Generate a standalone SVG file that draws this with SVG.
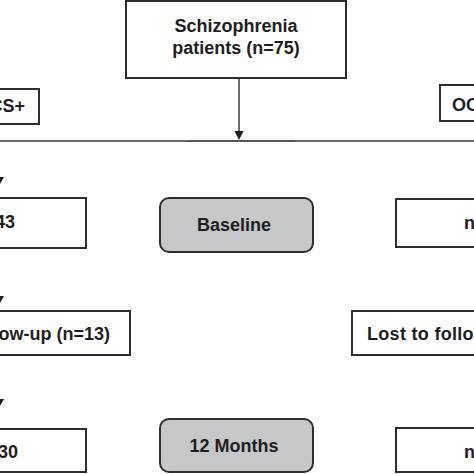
<svg xmlns="http://www.w3.org/2000/svg" width="474" height="474" viewBox="0 0 474 474">
<style>
.box{fill:#ffffff;stroke:#2e2e2e;stroke-width:2}
.grey{fill:#c6c7c9;stroke:#2e2e2e;stroke-width:2}
.t{font-family:"Liberation Sans",Arial,Helvetica,sans-serif;font-weight:bold;font-size:18px;fill:#1e1e1e}
.ln{stroke:#3a3a3a;stroke-width:1.5;fill:none}
.ah{fill:#1e1e1e}
</style>
<rect width="474" height="474" fill="#ffffff"/>
<g id="connectors">
<line class="ln" x1="0" y1="141" x2="474" y2="141"/>
<line x1="187" y1="141" x2="295" y2="141" stroke="#555555" stroke-width="2"/>
<line class="ln" x1="239" y1="78" x2="239" y2="133"/>
<polygon class="ah" points="234.5,131 243.5,131 239,140"/>
<polygon class="ah" points="-4,177 4,177 0,184"/>
<polygon class="ah" points="-4,296 4,296 0,303"/>
<polygon class="ah" points="-4,399 4,399 0,406"/>
</g>
<g id="patients">
<rect class="box" x="126" y="1" width="220" height="77"/>
<text class="t" x="236" y="31.5" text-anchor="middle" font-size="18.5">Schizophrenia</text>
<text class="t" x="236" y="53.5" text-anchor="middle" font-size="18.5">patients (n=75)</text>
</g>
<g id="ocs-left">
<rect class="box" x="-20" y="89" width="59" height="35"/>
<text class="t" x="25" y="112" text-anchor="end">CS+</text>
</g>
<g id="ocs-right">
<rect class="box" x="440" y="85" width="60" height="36"/>
<text class="t" x="452" y="111">OC</text>
</g>
<g id="left-baseline">
<rect class="box" x="-20" y="198" width="106" height="50"/>
<text class="t" x="15" y="228" text-anchor="end">43</text>
</g>
<g id="baseline">
<rect class="grey" x="160" y="198" width="153" height="54" rx="9"/>
<text class="t" x="234" y="230.5" text-anchor="middle">Baseline</text>
</g>
<g id="right-baseline">
<rect class="box" x="396" y="199" width="100" height="48"/>
<text class="t" x="464" y="229">n</text>
</g>
<g id="left-lost">
<rect class="box" x="-20" y="311" width="150" height="44"/>
<text class="t" x="110" y="340" text-anchor="end">ow-up (n=13)</text>
</g>
<g id="right-lost">
<rect class="box" x="352" y="311" width="150" height="44"/>
<text class="t" x="367" y="340" letter-spacing="0.3">Lost to follo</text>
</g>
<g id="left-12m">
<rect class="box" x="-20" y="429" width="106" height="43"/>
<text class="t" x="18" y="458" text-anchor="end">30</text>
</g>
<g id="months12">
<rect class="grey" x="160" y="419" width="153" height="53" rx="9"/>
<text class="t" x="234" y="452" text-anchor="middle">12 Months</text>
</g>
<g id="right-12m">
<rect class="box" x="396" y="428" width="100" height="44"/>
<text class="t" x="464" y="458">n</text>
</g>
</svg>
